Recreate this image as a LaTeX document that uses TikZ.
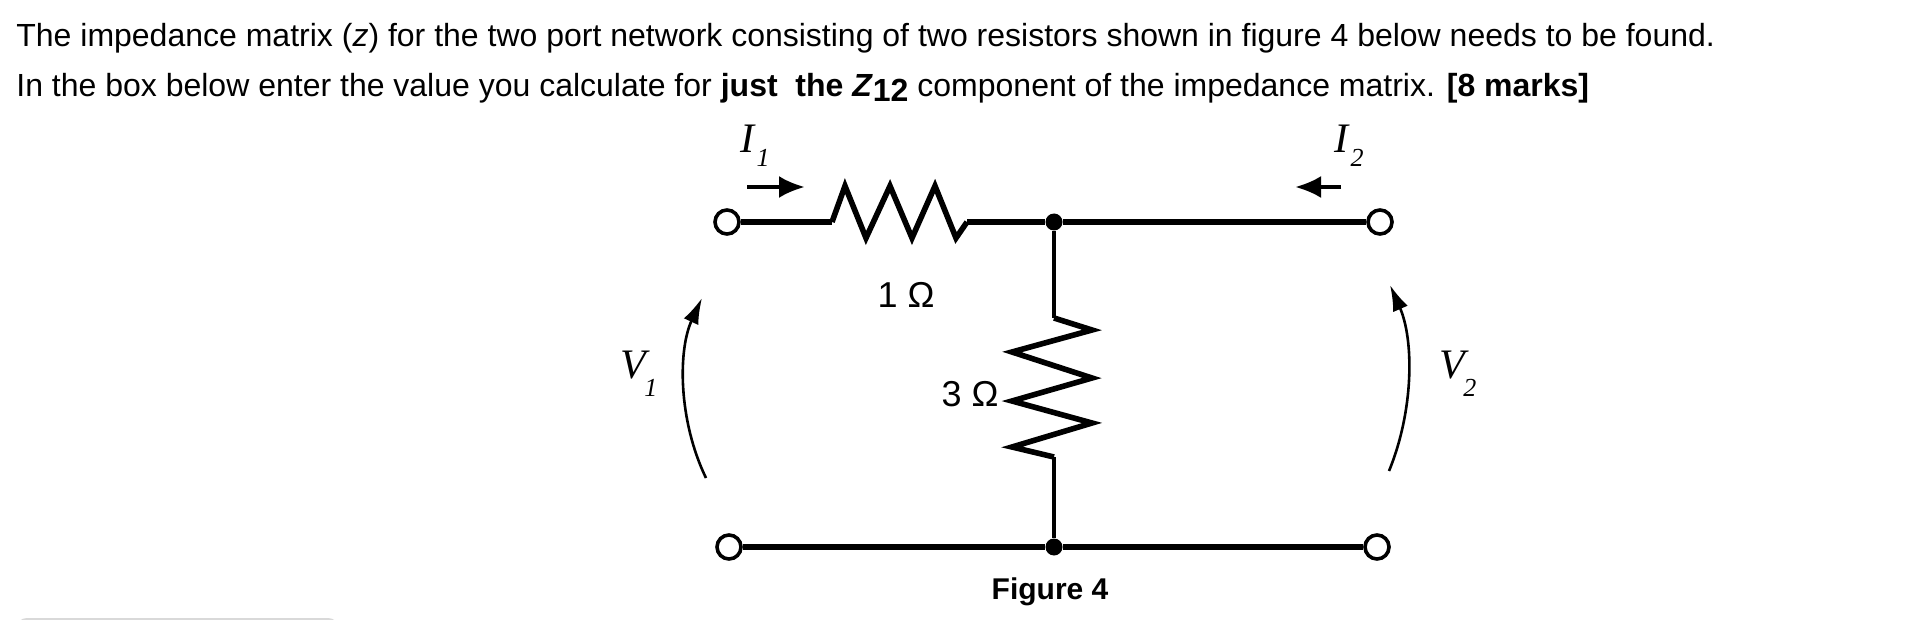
\documentclass[tikz,border=0pt]{standalone}
\usepackage{fontspec}
\setmainfont{Liberation Sans}
\newfontfamily\tms{Liberation Serif}
\usetikzlibrary{arrows.meta}
\begin{document}
\begin{tikzpicture}[x=0.5pt,y=-0.5pt,
  wire/.style={line width=2.8pt},
  thin wire/.style={line width=1.8pt},
  term/.style={circle,draw,line width=1.8pt,fill=white,inner sep=0pt,minimum size=12pt},
  dot/.style={circle,fill,inner sep=0pt,minimum size=8.5pt},
  lab/.style={font=\tms\itshape\fontsize{21}{21}\selectfont,inner sep=0pt},
  val/.style={font=\fontsize{18}{18}\selectfont,inner sep=0pt},
  volt/.style={line width=1.3pt,-{Latex[length=13pt,width=8pt]}},
  cur/.style={line width=2pt,-{Latex[length=13pt,width=11pt]}}]
  \useasboundingbox (0,0) rectangle (1910,620);

  % question text
  \node[anchor=west,font=\fontsize{16}{16}\selectfont,inner sep=0pt] (q1) at (16,38)
    {The impedance matrix (\textit{z}) for the two port network consisting of two resistors shown in figure 4 below needs to be found.};
  \node[anchor=west,font=\fontsize{16}{16}\selectfont,inner sep=0pt] (q2) at (16,88)
    {In the box below enter the value you calculate for \textbf{just\ \ the \textit{Z}\raisebox{-2.5pt}{12}} component of the impedance matrix. \textbf{[8 marks]}};

  % terminals and junctions
  \coordinate (ra) at (832,222);
  \coordinate (rb) at (967,222);
  \coordinate (sa) at (1054,318);
  \coordinate (sb) at (1054,457);
  \node[dot] (jt) at (1054,222) {};
  \node[dot] (jb) at (1054,547) {};
  \node[term] (t1) at (727,222) {};
  \node[term] (t2) at (1380,222) {};
  \node[term] (b1) at (729,547) {};
  \node[term] (b2) at (1377,547) {};

  % wires
  \draw[wire] (t1) -- (ra);
  \draw[wire] (rb) -- (jt) -- (t2);
  \draw[wire] (b1) -- (jb) -- (b2);
  \draw[thin wire] (jt) -- (sa);
  \draw[thin wire] (sb) -- (jb);

  % resistors
  \draw[wire,line join=miter] (ra) -- (845,186) -- (866,238) -- (890,186)
    -- (912,238) -- (935,186) -- (956,238) -- (rb);
  \draw[wire,line join=miter] (sa) -- (1092,330) -- (1012,352) -- (1092,378)
    -- (1012,401) -- (1092,423) -- (1012,447) -- (sb);
  \node[val] (r1) at (906,295) {1 Ω};
  \node[val] (r2) at (970,394) {3 Ω};

  % currents
  \coordinate (i1a) at (747,187);
  \coordinate (i1b) at (805,187);
  \coordinate (i2a) at (1341,187);
  \coordinate (i2b) at (1295,187);
  \draw[cur] (i1a) -- (i1b);
  \draw[cur] (i2a) -- (i2b);
  \node[lab] (l1) at (755,146) {I\kern1pt\raisebox{-7pt}{\fontsize{13}{13}\selectfont 1}};
  \node[lab] (l2) at (1349,146) {I\kern1pt\raisebox{-7pt}{\fontsize{13}{13}\selectfont 2}};

  % voltages
  \coordinate (v1a) at (706,478);
  \coordinate (v1b) at (702,298);
  \coordinate (v2a) at (1389,471);
  \coordinate (v2b) at (1390,285);
  \draw[volt] (v1a) .. controls (678,420) and (678,350) .. (v1b);
  \draw[volt] (v2a) .. controls (1414,410) and (1414,340) .. (v2b);
  \node[lab] (lv1) at (639,374) {V\kern-1pt\raisebox{-9pt}{\fontsize{13}{13}\selectfont 1}};
  \node[lab] (lv2) at (1458,374) {V\kern-1pt\raisebox{-9pt}{\fontsize{13}{13}\selectfont 2}};

  \node[font=\bfseries\fontsize{15}{15}\selectfont,inner sep=0pt] (cap) at (1050,592) {Figure 4};
  \draw[gray!30,line width=0.8pt,rounded corners=4pt] (18,640) -- (18,619) -- (337,619) -- (337,640);
\end{tikzpicture}
\end{document}
